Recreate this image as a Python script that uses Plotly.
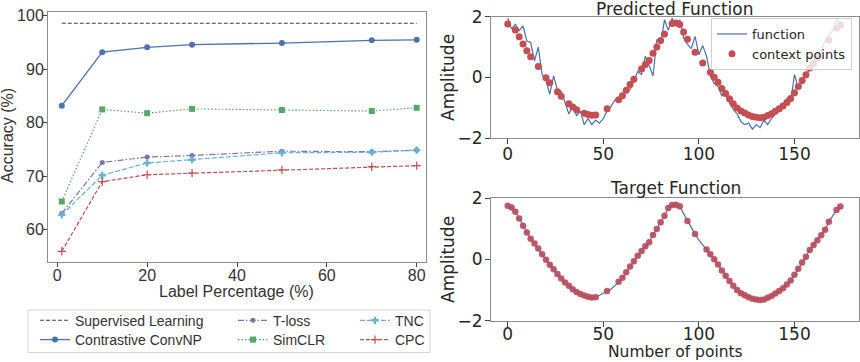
import plotly.graph_objects as go

W, H = 860, 362
def px(x): return x / W
def py(y): return 1 - y / H

# ---------------- data: accuracy vs label percentage ----------------
label_pct = [1, 10, 20, 30, 50, 70, 80]
acc_supervised = [98.6, 98.6, 98.6, 98.6, 98.6, 98.6, 98.6]
acc_convnp = [83.2, 93.2, 94.1, 94.6, 94.9, 95.4, 95.5]
acc_tloss = [63.1, 72.6, 73.6, 73.9, 74.7, 74.6, 74.9]
acc_simclr = [65.3, 82.5, 81.8, 82.6, 82.4, 82.2, 82.8]
acc_tnc = [62.8, 70.2, 72.5, 73.1, 74.4, 74.5, 74.9]
acc_cpc = [56.0, 69.0, 70.3, 70.6, 71.2, 71.8, 72.0]
acc_ticks = [60, 70, 80, 90, 100]
pct_ticks = [0, 20, 40, 60, 80]

# ---------------- data: function panels ----------------
fx = [0, 2, 4, 6, 8, 10, 12, 14, 16, 18, 20, 22, 24, 26, 28, 30, 32, 34, 36, 38,
      40, 42, 44, 46, 48, 50, 52, 54, 56, 58, 60, 62, 64, 66, 68, 70, 72, 74, 76, 78,
      80, 82, 84, 86, 88, 90, 92, 94, 96, 98, 100, 102, 104, 106, 108, 110, 112, 114, 116, 118,
      120, 122, 124, 126, 128, 130, 132, 134, 136, 138, 140, 142, 144, 146, 148, 150, 152, 154, 156, 158,
      160, 162, 164, 166, 168, 170, 172, 174]
target_y = [1.76, 1.70, 1.56, 1.34, 1.10, 0.88, 0.68, 0.52, 0.36, 0.17, -0.01, -0.17, -0.32, -0.47, -0.62, -0.75, -0.86, -0.97, -1.06, -1.13,
            -1.18, -1.22, -1.24, -1.23, -1.17, -1.10, -1.03, -0.97, -0.86, -0.73, -0.60, -0.42, -0.23, -0.06, 0.12, 0.28, 0.43, 0.56, 0.80, 1.00,
            1.22, 1.43, 1.68, 1.78, 1.79, 1.74, 1.50, 1.26, 1.04, 0.83, 0.63, 0.48, 0.33, 0.17, 0.01, -0.16, -0.36, -0.53, -0.70, -0.86,
            -1.00, -1.10, -1.17, -1.23, -1.28, -1.31, -1.32, -1.31, -1.25, -1.19, -1.11, -1.03, -0.94, -0.82, -0.69, -0.50, -0.30, -0.10, 0.09, 0.31,
            0.47, 0.63, 0.79, 0.97, 1.23, 1.43, 1.62, 1.73]
pred_y = [1.95, 1.60, 1.75, 1.55, 1.70, 1.20, 1.15, 0.55, 1.00, 0.10, -0.10, -0.55, 0.05, -0.40, -0.45, -0.80, -1.20, -0.95, -1.25, -1.10,
          -1.55, -1.35, -1.55, -1.40, -1.50, -1.35, -1.10, -0.95, -0.75, -0.70, -0.60, -0.45, -0.40, -0.10, 0.20, 0.10, 0.70, 0.40, 0.05, 1.25,
          1.10, 1.90, 1.55, 1.95, 1.70, 1.90, 1.30, 1.10, 0.95, 1.35, 0.75, 1.05, 0.70, 0.05, -0.20, -0.30, -0.60, -0.45, -0.85, -1.05,
          -1.20, -1.45, -1.55, -1.50, -1.70, -1.55, -1.65, -1.40, -1.55, -1.35, -1.20, -1.00, -0.95, -0.70, -0.80, 0.10, -0.35, -0.15, 0.05, 0.30,
          0.50, 0.75, 0.90, 1.20, 1.40, 1.55, 1.90, 1.80]
pred_ctx_x = [0, 4, 6, 8, 10, 12, 16, 20, 22, 26, 28, 32, 34, 36, 40, 42, 44, 46, 52, 58, 60, 62, 64, 66,
              70, 72, 74, 76, 78, 80, 82, 86, 88, 90, 92, 94, 98, 102, 106, 108, 110, 112, 114, 116, 118,
              120, 122, 124, 126, 128, 130, 132, 134, 136, 138, 140, 142, 144, 146, 148, 150, 152, 154,
              156, 158, 160, 162, 168, 172, 174]
target_ctx_x = [0, 2, 4, 6, 8, 10, 12, 14, 16, 18, 20, 22, 24, 26, 28, 30, 32, 34, 36, 38, 40, 42, 44, 46,
                52, 58, 60, 62, 64, 66, 68, 70, 72, 74, 76, 78, 80, 82, 84, 86, 88, 90, 94, 98, 104, 106,
                108, 110, 112, 114, 116, 118, 120, 122, 124, 126, 128, 130, 132, 134, 136, 138, 140, 142,
                144, 146, 148, 150, 152, 154, 156, 158, 160, 162, 164, 166, 168, 172, 174]
amp_ticks = [-2, 0, 2]
pts_ticks = [0, 50, 100, 150]

lookup = dict(zip(fx, target_y))
pred_ctx_y = [lookup[v] for v in pred_ctx_x]
target_ctx_y = [lookup[v] for v in target_ctx_x]

LF = "Liberation Sans, Arial, sans-serif"
RF = "DejaVu Sans, sans-serif"
BLUE, GREEN, RED, PURPLE, CYAN = "#4c72b0", "#55a868", "#c44e52", "#8172b2", "#64b5cd"

fig = go.Figure()

acc_series = [
    ("Supervised Learning", acc_supervised, dict(color="#444444", width=1.1, dash="4px,2px"), None, "legend2"),
    ("Contrastive ConvNP", acc_convnp, dict(color=BLUE, width=1.3), dict(symbol="circle", size=6, color=BLUE), "legend3"),
    ("T-loss", acc_tloss, dict(color=PURPLE, width=1.2, dash="6px,2px,1.5px,2px"), dict(symbol="circle", size=5, color=PURPLE), "legend4"),
    ("SimCLR", acc_simclr, dict(color=GREEN, width=1.2, dash="1.5px,2px"), dict(symbol="square", size=6, color=GREEN), "legend5"),
    ("TNC", acc_tnc, dict(color=CYAN, width=1.2, dash="5px,2px"), dict(symbol="cross", size=6, color=CYAN), "legend6"),
    ("CPC", acc_cpc, dict(color=RED, width=1.2, dash="4px,2px"), dict(symbol="cross-thin-open", size=6, line=dict(color=RED, width=1.2)), "legend7"),
]
for name, vals, line, marker, lg in acc_series:
    fig.add_trace(go.Scatter(
        x=label_pct, y=vals, name=name, mode="lines" if marker is None else "lines+markers",
        line=line, marker=marker, xaxis="x", yaxis="y", legend=lg))

# predicted panel
fig.add_trace(go.Scatter(x=fx, y=pred_y, name="function", mode="lines",
                         line=dict(color=BLUE, width=1.2), xaxis="x2", yaxis="y2", legend="legend"))
fig.add_trace(go.Scatter(x=pred_ctx_x, y=pred_ctx_y, name="context points", mode="markers",
                         marker=dict(color=RED, size=7), xaxis="x2", yaxis="y2", legend="legend"))
# target panel
fig.add_trace(go.Scatter(x=fx, y=target_y, mode="lines", showlegend=False,
                         line=dict(color=BLUE, width=1.2), xaxis="x3", yaxis="y3"))
fig.add_trace(go.Scatter(x=target_ctx_x, y=target_ctx_y, mode="markers", showlegend=False,
                         marker=dict(color="#b84a5c", size=6.5, opacity=0.9), xaxis="x3", yaxis="y3"))

frame = dict(showline=True, mirror=True, linecolor="#8c8c8c", linewidth=1, showgrid=False, zeroline=False,
             ticks="outside", tickcolor="#444444", automargin=False)

left_dom_x = [px(48), px(426)]
right_dom_x = [px(491), px(859)]

layout = dict(
    width=W, height=H, margin=dict(l=0, r=0, t=0, b=0, autoexpand=False),
    paper_bgcolor="white", plot_bgcolor="white",
    xaxis=dict(domain=left_dom_x, range=[-2.07, 82.07], tickvals=pct_ticks, ticklen=4, ticklabelstandoff=-5,
               tickfont=dict(family=LF, size=16, color="#333333"), anchor="y", **frame),
    yaxis=dict(domain=[py(262), py(12)], range=[54.0, 100.7], tickvals=acc_ticks, ticklen=4, ticklabelstandoff=-4,
               tickfont=dict(family=LF, size=16, color="#333333"), anchor="x", **frame),
    xaxis2=dict(domain=right_dom_x, range=[-8.75, 183.75], tickvals=pts_ticks, ticklen=5, ticklabelstandoff=-5,
                tickfont=dict(family=RF, size=17, color="#262626"), anchor="y2", **frame),
    yaxis2=dict(domain=[py(138.3), py(16.7)], range=[-2, 2], tickvals=amp_ticks, ticklen=5, ticklabelstandoff=-1,
                tickfont=dict(family=RF, size=17, color="#262626"), anchor="x2", **frame),
    xaxis3=dict(domain=right_dom_x, range=[-8.75, 183.75], tickvals=pts_ticks, ticklen=5, ticklabelstandoff=-7,
                tickfont=dict(family=RF, size=17, color="#262626"), anchor="y3", **frame),
    yaxis3=dict(domain=[py(320.7), py(198.3)], range=[-2, 2], tickvals=amp_ticks, ticklen=5, ticklabelstandoff=-1,
                tickfont=dict(family=RF, size=17, color="#262626"), anchor="x3", **frame),
    legend=dict(x=px(711), y=py(18), xanchor="left", yanchor="top", bgcolor="rgba(255,255,255,0.8)",
                bordercolor="#d0d0d0", borderwidth=1, font=dict(family=RF, size=13, color="#262626"),
                tracegroupgap=0, itemwidth=30),
)
leg_pos = {"legend2": (35, 320.7), "legend3": (35, 340), "legend4": (233, 320.7),
           "legend5": (233, 340), "legend6": (355, 320.7), "legend7": (355, 340)}
for k, (lx, ly) in leg_pos.items():
    layout[k] = dict(x=px(lx), y=py(ly), xanchor="left", yanchor="middle", bgcolor="rgba(0,0,0,0)",
                     borderwidth=0, font=dict(family=LF, size=14, color="#333333"), itemwidth=30)
fig.update_layout(**layout)

fig.add_shape(type="rect", xref="paper", yref="paper", x0=px(28), x1=px(430), y0=py(352.5), y1=py(310),
              line=dict(color="#d6d6d6", width=1), fillcolor="white", layer="below")

ann = [
    ("Accuracy (%)", 8, 136, -90, LF, 16, "#333333"),
    ("Label Percentage (%)", 237, 291.5, 0, LF, 16, "#333333"),
    ("Predicted Function", 675, 8.5, 0, RF, 17, "#262626"),
    ("Target Function", 675, 187.5, 0, RF, 17, "#262626"),
    ("Number of points", 675, 352, 0, RF, 15.5, "#262626"),
    ("Amplitude", 448, 78, -90, RF, 17, "#262626"),
    ("Amplitude", 448, 260, -90, RF, 17, "#262626"),
]
for text, ax, ay, ang, fam, size, col in ann:
    fig.add_annotation(text=text, x=px(ax), y=py(ay), xref="paper", yref="paper", showarrow=False,
                       textangle=ang, xanchor="center", yanchor="middle",
                       font=dict(family=fam, size=size, color=col))

fig.write_html("out.html", config={"displayModeBar": False},
               post_script="document.body.style.margin='0';")
